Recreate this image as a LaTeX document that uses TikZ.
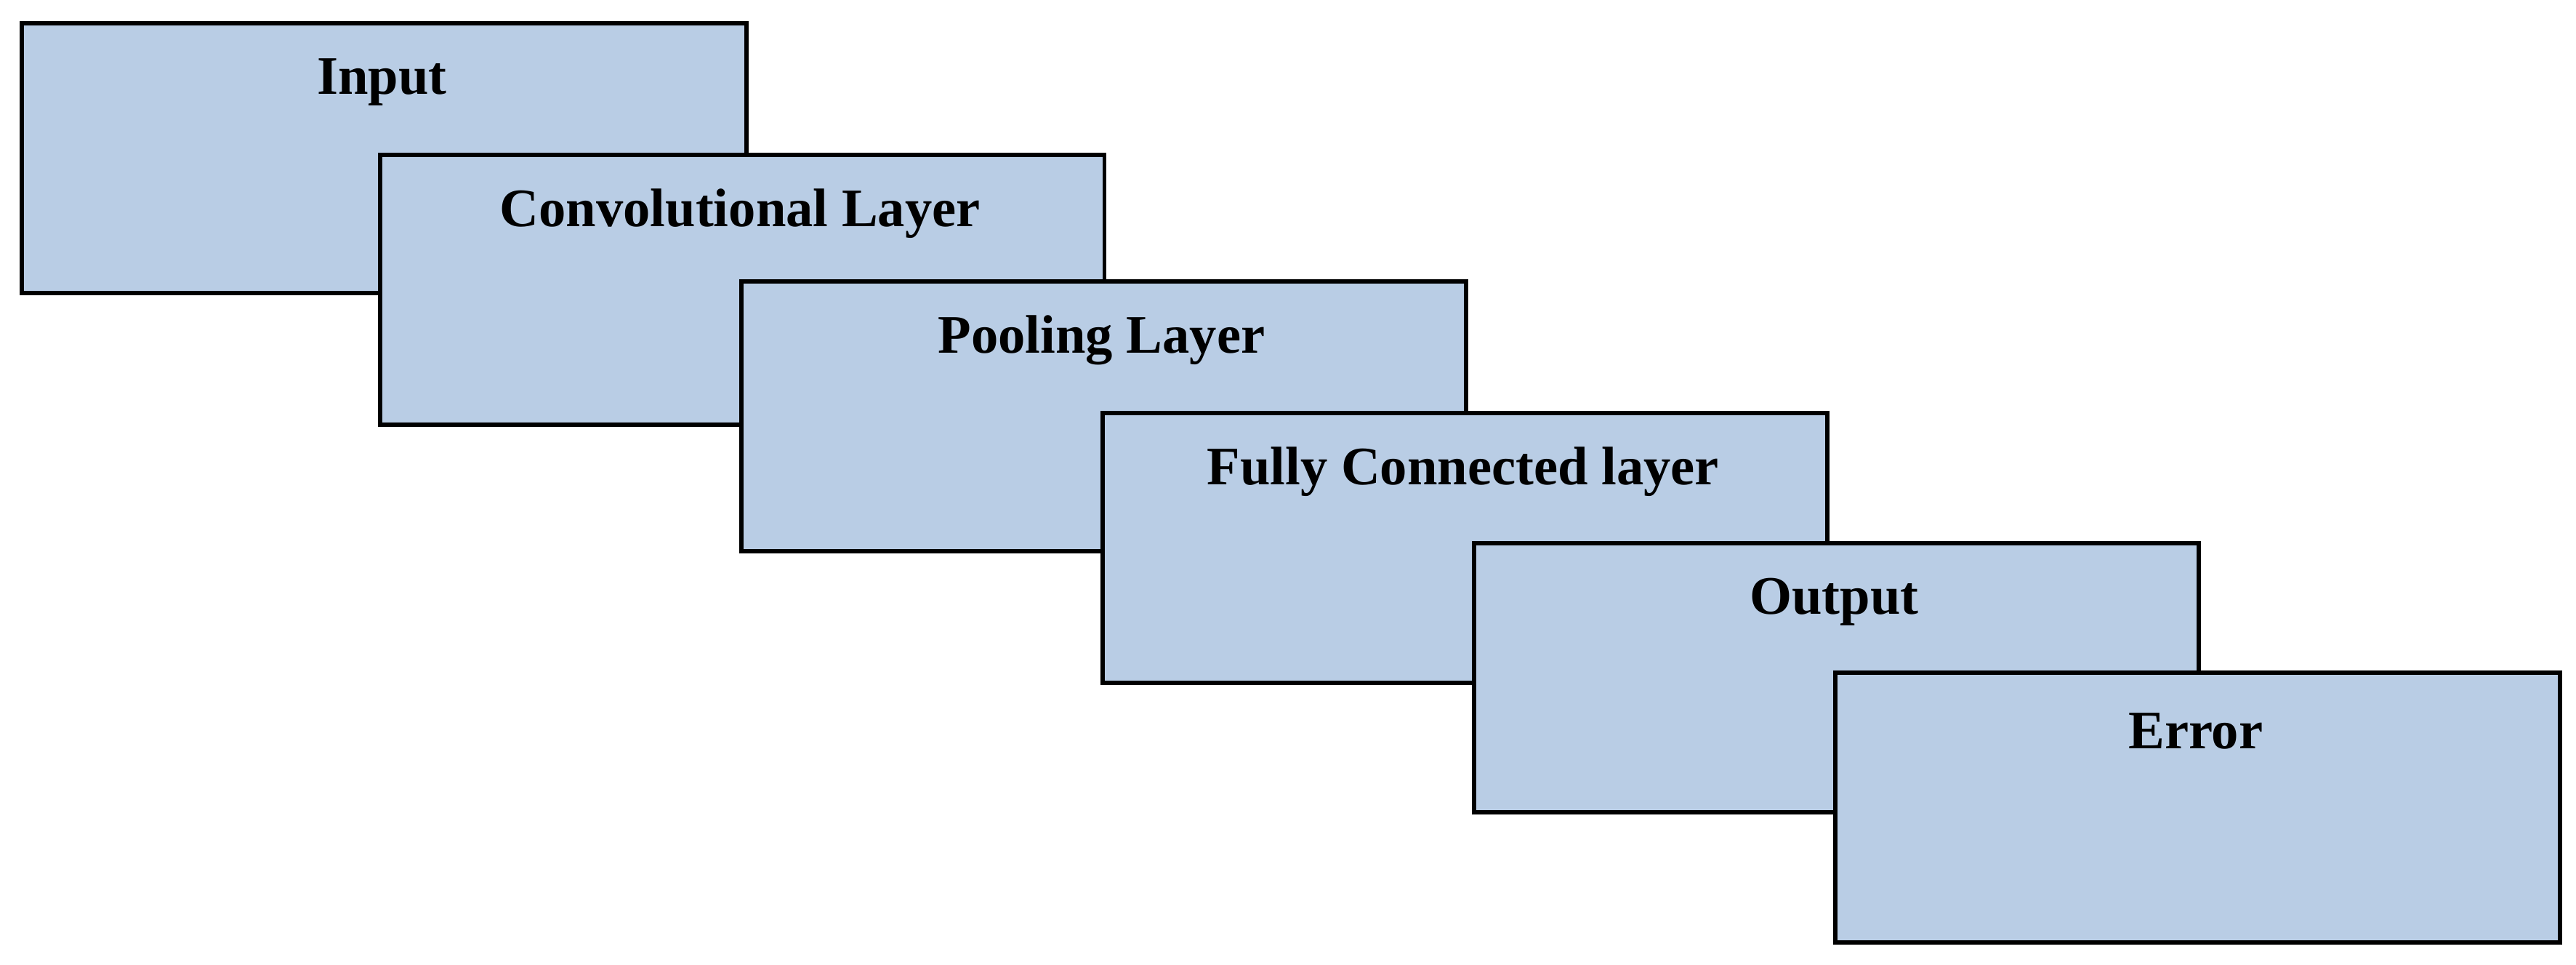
\documentclass[tikz,border=0pt]{standalone}
\usepackage{fontspec}
\setmainfont{Liberation Serif}
\usetikzlibrary{calc}
\definecolor{boxblue}{HTML}{B9CDE5}
\begin{document}
\begin{tikzpicture}[x=1pt,y=-1pt,
  layer/.style={draw=black,line width=2.6pt,fill=boxblue,minimum width=441pt,minimum height=164pt,anchor=north west,inner sep=0pt},
  lbl/.style={font=\bfseries\fontsize{33}{36}\selectfont,anchor=center}]
\useasboundingbox (0,0) rectangle (1568,587);
\foreach \i/\x/\y/\t in {1/12/13/Input,2/230/93/Convolutional Layer,3/450/170/Pooling Layer,4/670/250/Fully Connected layer,5/896/329/Output,6/1116/408/Error}{
  \node[layer] (b\i) at (\x,\y) {};
  \node[lbl] (t\i) at ($(\x,\y)+(220.5,37)$) {\t};
}
\end{tikzpicture}
\end{document}
